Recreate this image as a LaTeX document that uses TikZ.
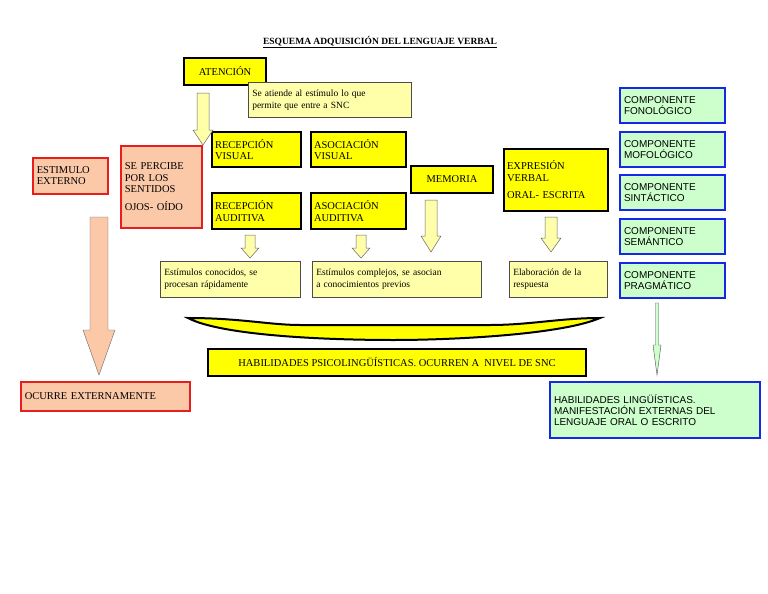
\documentclass[tikz,border=0pt]{standalone}
\usepackage{fontspec}
\setmainfont{Liberation Serif}
\newfontfamily\arialf{Liberation Sans}
\usepackage{tikz}
\usetikzlibrary{positioning}

\definecolor{amarillo}{RGB}{255,255,0}
\definecolor{crema}{RGB}{255,255,170}
\definecolor{salmon}{RGB}{251,200,168}
\definecolor{verdec}{RGB}{204,255,204}
\definecolor{azul}{RGB}{20,40,230}
\definecolor{rojo}{RGB}{230,30,30}

\tikzset{
  caja/.style={draw=black, line width=2pt, fill=amarillo, anchor=north west, align=left, inner sep=3pt, font=\fontsize{10.5}{11.5}\selectfont},
  nota/.style={draw=black!70, line width=0.5pt, fill=crema, anchor=north west, align=left, inner sep=4pt, font=\fontsize{9.5}{12}\selectfont},
  rosa/.style={draw=rojo, line width=1.5pt, fill=salmon, anchor=north west, align=left, inner sep=4pt, font=\fontsize{10.5}{11.5}\selectfont},
  comp/.style={draw=azul, line width=2pt, fill=verdec, anchor=north west, align=left, inner sep=4pt, font=\arialf\fontsize{10}{11}\selectfont},
  flecha/.style={draw=black!60, fill=crema, line width=0.5pt}
}
% block arrow: x, top, bottom, half shaft, half head, head length
\newcommand{\bloque}[7][flecha]{%
  \path[#1] (#2-#5,#3) -- (#2+#5,#3) -- (#2+#5,#4-#7) -- (#2+#6,#4-#7) -- (#2,#4)
    -- (#2-#6,#4-#7) -- (#2-#5,#4-#7) -- cycle;}

\begin{document}
\begin{tikzpicture}[x=1pt, y=-1pt]
  \useasboundingbox (0,0) rectangle (768,594);

  \node (titulo) at (380,42) {\fontsize{9.5}{11}\selectfont\bfseries\underline{ESQUEMA ADQUISICIÓN DEL LENGUAJE VERBAL}};

  \node[caja, minimum width=82, minimum height=27] (atencion) at (183,57) {ATENCIÓN};
  \node[nota, minimum width=163, minimum height=35, text width=155] (atiende) at (248,82) {Se atiende al estímulo lo que\\permite que entre a SNC};

  \node[rosa, minimum width=75, minimum height=36, text width=67] (estimulo) at (32,157) {ESTIMULO\\EXTERNO};
  \node[rosa, minimum width=81, minimum height=82, text width=73, anchor=north west] (percibe) at (120,145) {SE PERCIBE\\POR LOS\\SENTIDOS\\[6pt]OJOS- OÍDO};

  \node[caja, minimum width=89, minimum height=35, text width=83] (recvis) at (211,131) {RECEPCIÓN\\VISUAL};
  \node[caja, minimum width=95, minimum height=35, text width=89] (asovis) at (310,131) {ASOCIACIÓN\\VISUAL};
  \node[caja, minimum width=82, minimum height=27] (memoria) at (410,165) {MEMORIA};
  \node[caja, minimum width=104, minimum height=62, text width=98] (expresion) at (503,148) {EXPRESIÓN\\VERBAL\\[6pt]ORAL- ESCRITA};
  \node[caja, minimum width=89, minimum height=36, text width=83] (recaud) at (211,192) {RECEPCIÓN\\AUDITIVA};
  \node[caja, minimum width=95, minimum height=36, text width=89] (asoaud) at (310,192) {ASOCIACIÓN\\AUDITIVA};

  \node[nota, minimum width=140, minimum height=36, text width=132] (conocidos) at (160,261) {Estímulos conocidos, se\\procesan rápidamente};
  \node[nota, minimum width=169, minimum height=36, text width=161] (complejos) at (312,261) {Estímulos complejos, se asocian\\a conocimientos previos};
  \node[nota, minimum width=98, minimum height=36, text width=90] (elabora) at (509,261) {Elaboración de la\\respuesta};

  % flechas
  \bloque{203}{93}{145}{6}{10}{15}
  \bloque{250}{235}{258}{5}{9}{10}
  \bloque{361}{235}{258}{5}{9}{10}
  \bloque{431}{200}{252}{6}{10}{16}
  \bloque{551}{217}{252}{6}{10}{14}
  \bloque[draw=black!60, fill=salmon]{99}{217}{375}{9}{16}{45}
  \bloque[draw=black!70, fill=verdec]{657}{303}{375}{1.5}{4}{30}

  % llave
  \path[draw=black, line width=2pt, fill=amarillo]
    (188,318) .. controls (240,318) and (270,325) .. (300,325) -- (490,325)
    .. controls (530,325) and (560,318) .. (600,318)
    .. controls (560,335) and (450,340) .. (394,340)
    .. controls (320,340) and (220,335) .. (188,318) -- cycle;

  \node[caja, minimum width=378, minimum height=27, inner xsep=6pt] (psico) at (207,348) {HABILIDADES PSICOLINGÜÍSTICAS. OCURREN A\ \ NIVEL DE SNC};
  \node[rosa, minimum width=169, minimum height=29, text width=161] (ocurre) at (20,381) {OCURRE EXTERNAMENTE};

  \foreach \y/\t [count=\i] in {87/FONOLÓGICO, 131/MOFOLÓGICO, 174/SINTÁCTICO, 218/SEMÁNTICO, 262/PRAGMÁTICO}
    \node[comp, minimum width=105, minimum height=35, text width=97] (comp\i) at (619,\y) {COMPONENTE\\\t};

  \node[comp, minimum width=210, minimum height=56, text width=202] (linguist) at (549,381) {HABILIDADES LINGÜÍSTICAS.\\MANIFESTACIÓN EXTERNAS DEL\\LENGUAJE ORAL O ESCRITO};
\end{tikzpicture}
\end{document}
